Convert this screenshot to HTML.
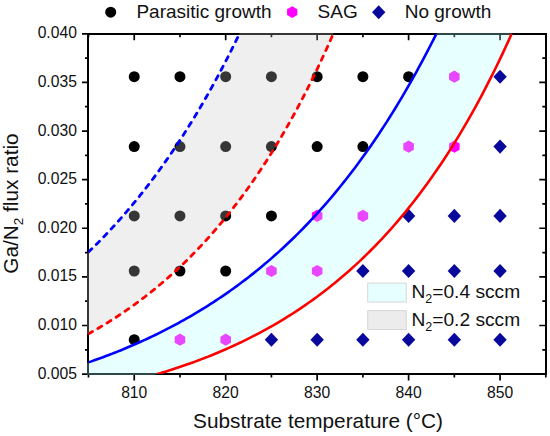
<!DOCTYPE html><html><head><meta charset="utf-8"><style>html,body{margin:0;padding:0;background:#fff;overflow:hidden}svg{display:block}</style></head><body><svg width="550" height="436" viewBox="0 0 550 436">
<defs><clipPath id="pc"><rect x="88.5" y="33.8" width="457.29999999999995" height="340.3"/></clipPath><clipPath id="fc"><rect x="87" y="33" width="460" height="342"/></clipPath></defs>
<rect width="550" height="436" fill="#fff"/>
<rect x="88" y="34" width="458" height="340" fill="none" stroke="#000" stroke-width="2"/>
<path d="M88.50,374.10v3.5M88.50,33.80v3.5M134.23,374.10v6.5M134.23,33.80v6.5M179.96,374.10v3.5M179.96,33.80v3.5M225.69,374.10v6.5M225.69,33.80v6.5M271.42,374.10v3.5M271.42,33.80v3.5M317.15,374.10v6.5M317.15,33.80v6.5M362.88,374.10v3.5M362.88,33.80v3.5M408.61,374.10v6.5M408.61,33.80v6.5M454.34,374.10v3.5M454.34,33.80v3.5M500.07,374.10v6.5M500.07,33.80v6.5M545.80,374.10v3.5M545.80,33.80v3.5M88.50,374.10h-6.5M545.80,374.10h-6.5M88.50,349.79h-3.5M545.80,349.79h-3.5M88.50,325.49h-6.5M545.80,325.49h-6.5M88.50,301.18h-3.5M545.80,301.18h-3.5M88.50,276.87h-6.5M545.80,276.87h-6.5M88.50,252.56h-3.5M545.80,252.56h-3.5M88.50,228.26h-6.5M545.80,228.26h-6.5M88.50,203.95h-3.5M545.80,203.95h-3.5M88.50,179.64h-6.5M545.80,179.64h-6.5M88.50,155.34h-3.5M545.80,155.34h-3.5M88.50,131.03h-6.5M545.80,131.03h-6.5M88.50,106.72h-3.5M545.80,106.72h-3.5M88.50,82.41h-6.5M545.80,82.41h-6.5M88.50,58.11h-3.5M545.80,58.11h-3.5M88.50,33.80h-6.5M545.80,33.80h-6.5" stroke="#000" stroke-width="1.7" fill="none"/>
<circle cx="134.23" cy="76.70" r="5.5" fill="#000"/><circle cx="179.96" cy="76.70" r="5.5" fill="#000"/><circle cx="225.69" cy="76.70" r="5.5" fill="#000"/><circle cx="271.42" cy="76.70" r="5.5" fill="#000"/><circle cx="317.15" cy="76.70" r="5.5" fill="#000"/><circle cx="362.88" cy="76.70" r="5.5" fill="#000"/><circle cx="408.61" cy="76.70" r="5.5" fill="#000"/><polygon points="454.34,70.60 459.62,73.65 459.62,79.75 454.34,82.80 449.06,79.75 449.06,73.65" fill="#ff00ff"/><polygon points="500.07,69.66 506.76,76.70 500.07,83.74 493.38,76.70" fill="#08089c"/><circle cx="134.23" cy="146.60" r="5.5" fill="#000"/><circle cx="179.96" cy="146.60" r="5.5" fill="#000"/><circle cx="225.69" cy="146.60" r="5.5" fill="#000"/><circle cx="271.42" cy="146.60" r="5.5" fill="#000"/><circle cx="317.15" cy="146.60" r="5.5" fill="#000"/><circle cx="362.88" cy="146.60" r="5.5" fill="#000"/><polygon points="408.61,140.50 413.89,143.55 413.89,149.65 408.61,152.70 403.33,149.65 403.33,143.55" fill="#ff00ff"/><polygon points="454.34,140.50 459.62,143.55 459.62,149.65 454.34,152.70 449.06,149.65 449.06,143.55" fill="#ff00ff"/><polygon points="500.07,139.56 506.76,146.60 500.07,153.64 493.38,146.60" fill="#08089c"/><circle cx="134.23" cy="215.90" r="5.5" fill="#000"/><circle cx="179.96" cy="215.90" r="5.5" fill="#000"/><circle cx="225.69" cy="215.90" r="5.5" fill="#000"/><circle cx="271.42" cy="215.90" r="5.5" fill="#000"/><polygon points="317.15,209.80 322.43,212.85 322.43,218.95 317.15,222.00 311.87,218.95 311.87,212.85" fill="#ff00ff"/><polygon points="362.88,209.80 368.16,212.85 368.16,218.95 362.88,222.00 357.60,218.95 357.60,212.85" fill="#ff00ff"/><polygon points="408.61,208.86 415.30,215.90 408.61,222.94 401.92,215.90" fill="#08089c"/><polygon points="454.34,208.86 461.03,215.90 454.34,222.94 447.65,215.90" fill="#08089c"/><polygon points="500.07,208.86 506.76,215.90 500.07,222.94 493.38,215.90" fill="#08089c"/><circle cx="134.23" cy="271.00" r="5.5" fill="#000"/><circle cx="179.96" cy="271.00" r="5.5" fill="#000"/><circle cx="225.69" cy="271.00" r="5.5" fill="#000"/><polygon points="271.42,264.90 276.70,267.95 276.70,274.05 271.42,277.10 266.14,274.05 266.14,267.95" fill="#ff00ff"/><polygon points="317.15,264.90 322.43,267.95 322.43,274.05 317.15,277.10 311.87,274.05 311.87,267.95" fill="#ff00ff"/><polygon points="362.88,263.96 369.57,271.00 362.88,278.04 356.19,271.00" fill="#08089c"/><polygon points="408.61,263.96 415.30,271.00 408.61,278.04 401.92,271.00" fill="#08089c"/><polygon points="454.34,263.96 461.03,271.00 454.34,278.04 447.65,271.00" fill="#08089c"/><polygon points="500.07,263.96 506.76,271.00 500.07,278.04 493.38,271.00" fill="#08089c"/><circle cx="134.23" cy="339.70" r="5.5" fill="#000"/><polygon points="179.96,333.60 185.24,336.65 185.24,342.75 179.96,345.80 174.68,342.75 174.68,336.65" fill="#ff00ff"/><polygon points="225.69,333.60 230.97,336.65 230.97,342.75 225.69,345.80 220.41,342.75 220.41,336.65" fill="#ff00ff"/><polygon points="271.42,332.66 278.11,339.70 271.42,346.74 264.73,339.70" fill="#08089c"/><polygon points="317.15,332.66 323.84,339.70 317.15,346.74 310.46,339.70" fill="#08089c"/><polygon points="362.88,332.66 369.57,339.70 362.88,346.74 356.19,339.70" fill="#08089c"/><polygon points="408.61,332.66 415.30,339.70 408.61,346.74 401.92,339.70" fill="#08089c"/><polygon points="454.34,332.66 461.03,339.70 454.34,346.74 447.65,339.70" fill="#08089c"/><polygon points="500.07,332.66 506.76,339.70 500.07,346.74 493.38,339.70" fill="#08089c"/>
<g clip-path="url(#fc)">
<path d="M87.00,253.47 L88.27,252.25 L89.55,251.03 L90.82,249.80 L92.09,248.56 L93.37,247.31 L94.64,246.05 L95.91,244.79 L97.19,243.52 L98.46,242.23 L99.73,240.94 L101.00,239.65 L102.28,238.34 L103.55,237.02 L104.82,235.70 L106.10,234.37 L107.37,233.03 L108.64,231.68 L109.92,230.32 L111.19,228.95 L112.46,227.58 L113.74,226.19 L115.01,224.80 L116.28,223.39 L117.56,221.98 L118.83,220.56 L120.10,219.13 L121.37,217.69 L122.65,216.24 L123.92,214.78 L125.19,213.31 L126.47,211.83 L127.74,210.34 L129.01,208.84 L130.29,207.34 L131.56,205.82 L132.83,204.29 L134.11,202.75 L135.38,201.21 L136.65,199.65 L137.93,198.08 L139.20,196.50 L140.47,194.92 L141.75,193.32 L143.02,191.71 L144.29,190.09 L145.56,188.46 L146.84,186.82 L148.11,185.17 L149.38,183.50 L150.66,181.83 L151.93,180.15 L153.20,178.45 L154.48,176.75 L155.75,175.03 L157.02,173.30 L158.30,171.56 L159.57,169.81 L160.84,168.05 L162.12,166.27 L163.39,164.49 L164.66,162.69 L165.93,160.88 L167.21,159.06 L168.48,157.23 L169.75,155.38 L171.03,153.53 L172.30,151.66 L173.57,149.78 L174.85,147.88 L176.12,145.98 L177.39,144.06 L178.67,142.13 L179.94,140.19 L181.21,138.23 L182.49,136.26 L183.76,134.28 L185.03,132.29 L186.31,130.28 L187.58,128.26 L188.85,126.22 L190.12,124.18 L191.40,122.12 L192.67,120.04 L193.94,117.96 L195.22,115.85 L196.49,113.74 L197.76,111.61 L199.04,109.47 L200.31,107.31 L201.58,105.14 L202.86,102.96 L204.13,100.76 L205.40,98.54 L206.68,96.32 L207.95,94.07 L209.22,91.82 L210.49,89.55 L211.77,87.26 L213.04,84.96 L214.31,82.64 L215.59,80.31 L216.86,77.96 L218.13,75.60 L219.41,73.22 L220.68,70.83 L221.95,68.42 L223.23,66.00 L224.50,63.56 L225.77,61.10 L227.05,58.63 L228.32,56.14 L229.59,53.64 L230.87,51.11 L232.14,48.58 L233.41,46.02 L234.68,43.45 L235.96,40.86 L237.23,38.26 L238.50,35.64 L239.78,33.00 L333.62,33.00 L331.56,37.70 L329.51,42.34 L327.45,46.93 L325.40,51.46 L323.34,55.94 L321.29,60.36 L319.23,64.73 L317.18,69.06 L315.12,73.33 L313.07,77.55 L311.01,81.72 L308.96,85.84 L306.90,89.91 L304.84,93.93 L302.79,97.91 L300.73,101.83 L298.68,105.72 L296.62,109.55 L294.57,113.34 L292.51,117.09 L290.46,120.79 L288.40,124.45 L286.35,128.06 L284.29,131.63 L282.24,135.16 L280.18,138.65 L278.13,142.09 L276.07,145.50 L274.02,148.86 L271.96,152.19 L269.91,155.48 L267.85,158.72 L265.80,161.93 L263.74,165.10 L261.69,168.23 L259.63,171.33 L257.58,174.39 L255.52,177.41 L253.47,180.40 L251.41,183.35 L249.36,186.27 L247.30,189.15 L245.25,192.00 L243.19,194.81 L241.14,197.59 L239.08,200.34 L237.03,203.05 L234.97,205.74 L232.91,208.39 L230.86,211.01 L228.80,213.60 L226.75,216.16 L224.69,218.68 L222.64,221.18 L220.58,223.65 L218.53,226.09 L216.47,228.50 L214.42,230.88 L212.36,233.24 L210.31,235.56 L208.25,237.86 L206.20,240.13 L204.14,242.38 L202.09,244.59 L200.03,246.78 L197.98,248.95 L195.92,251.09 L193.87,253.20 L191.81,255.29 L189.76,257.36 L187.70,259.40 L185.65,261.41 L183.59,263.41 L181.54,265.37 L179.48,267.32 L177.43,269.24 L175.37,271.14 L173.32,273.02 L171.26,274.87 L169.21,276.71 L167.15,278.52 L165.10,280.31 L163.04,282.07 L160.99,283.82 L158.93,285.55 L156.87,287.26 L154.82,288.94 L152.76,290.61 L150.71,292.25 L148.65,293.88 L146.60,295.49 L144.54,297.08 L142.49,298.65 L140.43,300.20 L138.38,301.73 L136.32,303.25 L134.27,304.74 L132.21,306.22 L130.16,307.68 L128.10,309.13 L126.05,310.55 L123.99,311.96 L121.94,313.36 L119.88,314.73 L117.83,316.10 L115.77,317.44 L113.72,318.77 L111.66,320.08 L109.61,321.38 L107.55,322.66 L105.50,323.93 L103.44,325.18 L101.39,326.42 L99.33,327.64 L97.28,328.85 L95.22,330.04 L93.17,331.22 L91.11,332.38 L89.06,333.54 L87.00,334.67 Z" fill="#c5c5c5" fill-opacity="0.275"/>
<path d="M87.00,362.89 L89.91,361.88 L92.83,360.86 L95.74,359.82 L98.66,358.77 L101.57,357.70 L104.49,356.62 L107.40,355.52 L110.32,354.40 L113.23,353.27 L116.15,352.12 L119.06,350.95 L121.97,349.77 L124.89,348.57 L127.80,347.35 L130.72,346.11 L133.63,344.85 L136.55,343.58 L139.46,342.28 L142.38,340.97 L145.29,339.64 L148.21,338.29 L151.12,336.91 L154.03,335.52 L156.95,334.11 L159.86,332.67 L162.78,331.22 L165.69,329.74 L168.61,328.24 L171.52,326.72 L174.44,325.17 L177.35,323.61 L180.27,322.02 L183.18,320.40 L186.09,318.76 L189.01,317.10 L191.92,315.42 L194.84,313.70 L197.75,311.97 L200.67,310.20 L203.58,308.41 L206.50,306.60 L209.41,304.75 L212.33,302.88 L215.24,300.99 L218.15,299.06 L221.07,297.10 L223.98,295.12 L226.90,293.11 L229.81,291.06 L232.73,288.99 L235.64,286.88 L238.56,284.75 L241.47,282.58 L244.39,280.38 L247.30,278.15 L250.21,275.88 L253.13,273.58 L256.04,271.25 L258.96,268.88 L261.87,266.48 L264.79,264.04 L267.70,261.57 L270.62,259.05 L273.53,256.51 L276.45,253.92 L279.36,251.29 L282.27,248.63 L285.19,245.93 L288.10,243.18 L291.02,240.40 L293.93,237.57 L296.85,234.70 L299.76,231.79 L302.68,228.84 L305.59,225.84 L308.51,222.80 L311.42,219.71 L314.33,216.58 L317.25,213.40 L320.16,210.17 L323.08,206.89 L325.99,203.57 L328.91,200.20 L331.82,196.77 L334.74,193.30 L337.65,189.77 L340.57,186.20 L343.48,182.57 L346.39,178.88 L349.31,175.14 L352.22,171.35 L355.14,167.49 L358.05,163.59 L360.97,159.62 L363.88,155.59 L366.80,151.51 L369.71,147.36 L372.63,143.15 L375.54,138.88 L378.45,134.55 L381.37,130.15 L384.28,125.69 L387.20,121.16 L390.11,116.56 L393.03,111.90 L395.94,107.16 L398.86,102.36 L401.77,97.48 L404.69,92.53 L407.60,87.51 L410.51,82.41 L413.43,77.24 L416.34,71.99 L419.26,66.67 L422.17,61.26 L425.09,55.77 L428.00,50.20 L430.92,44.55 L433.83,38.82 L436.75,33.00 L512.00,33.00 L509.02,39.62 L506.04,46.13 L503.06,52.54 L500.08,58.83 L497.10,65.02 L494.11,71.10 L491.13,77.08 L488.15,82.96 L485.17,88.74 L482.19,94.43 L479.21,100.02 L476.23,105.51 L473.24,110.91 L470.26,116.22 L467.28,121.44 L464.30,126.58 L461.32,131.62 L458.34,136.58 L455.36,141.46 L452.38,146.26 L449.39,150.97 L446.41,155.61 L443.43,160.17 L440.45,164.65 L437.47,169.05 L434.49,173.39 L431.51,177.64 L428.52,181.83 L425.54,185.95 L422.56,189.99 L419.58,193.97 L416.60,197.88 L413.62,201.73 L410.64,205.51 L407.65,209.23 L404.67,212.88 L401.69,216.48 L398.71,220.01 L395.73,223.48 L392.75,226.90 L389.77,230.25 L386.79,233.55 L383.80,236.80 L380.82,239.99 L377.84,243.12 L374.86,246.21 L371.88,249.24 L368.90,252.22 L365.92,255.15 L362.93,258.03 L359.95,260.87 L356.97,263.65 L353.99,266.39 L351.01,269.08 L348.03,271.73 L345.05,274.33 L342.06,276.89 L339.08,279.40 L336.10,281.87 L333.12,284.31 L330.14,286.70 L327.16,289.05 L324.18,291.36 L321.20,293.63 L318.21,295.86 L315.23,298.06 L312.25,300.21 L309.27,302.34 L306.29,304.42 L303.31,306.47 L300.33,308.49 L297.34,310.47 L294.36,312.42 L291.38,314.34 L288.40,316.22 L285.42,318.08 L282.44,319.90 L279.46,321.69 L276.47,323.45 L273.49,325.18 L270.51,326.88 L267.53,328.55 L264.55,330.20 L261.57,331.82 L258.59,333.41 L255.60,334.97 L252.62,336.51 L249.64,338.02 L246.66,339.50 L243.68,340.96 L240.70,342.40 L237.72,343.81 L234.74,345.20 L231.75,346.56 L228.77,347.90 L225.79,349.22 L222.81,350.52 L219.83,351.80 L216.85,353.05 L213.87,354.28 L210.88,355.49 L207.90,356.68 L204.92,357.85 L201.94,359.01 L198.96,360.14 L195.98,361.25 L193.00,362.35 L190.01,363.42 L187.03,364.48 L184.05,365.52 L181.07,366.54 L178.09,367.55 L175.11,368.53 L172.13,369.51 L169.15,370.46 L166.16,371.40 L163.18,372.32 L160.20,373.23 L157.22,374.12 L154.24,375.00 L87,375 Z" fill="#adffff" fill-opacity="0.28"/>
</g><g clip-path="url(#pc)">
<path d="M88.50,252.04 L89.76,250.83 L91.01,249.61 L92.27,248.38 L93.53,247.15 L94.79,245.91 L96.04,244.66 L97.30,243.40 L98.56,242.13 L99.82,240.86 L101.07,239.57 L102.33,238.28 L103.59,236.98 L104.85,235.68 L106.10,234.36 L107.36,233.04 L108.62,231.70 L109.88,230.36 L111.13,229.01 L112.39,227.65 L113.65,226.29 L114.91,224.91 L116.16,223.52 L117.42,222.13 L118.68,220.73 L119.94,219.31 L121.19,217.89 L122.45,216.46 L123.71,215.02 L124.97,213.57 L126.22,212.11 L127.48,210.65 L128.74,209.17 L130.00,207.68 L131.25,206.19 L132.51,204.68 L133.77,203.16 L135.03,201.64 L136.28,200.10 L137.54,198.56 L138.80,197.00 L140.05,195.44 L141.31,193.86 L142.57,192.28 L143.83,190.68 L145.08,189.07 L146.34,187.46 L147.60,185.83 L148.86,184.19 L150.11,182.55 L151.37,180.89 L152.63,179.22 L153.89,177.54 L155.14,175.85 L156.40,174.15 L157.66,172.43 L158.92,170.71 L160.17,168.97 L161.43,167.23 L162.69,165.47 L163.95,163.70 L165.20,161.92 L166.46,160.13 L167.72,158.33 L168.98,156.51 L170.23,154.69 L171.49,152.85 L172.75,151.00 L174.01,149.14 L175.26,147.26 L176.52,145.38 L177.78,143.48 L179.04,141.57 L180.29,139.65 L181.55,137.71 L182.81,135.76 L184.06,133.80 L185.32,131.83 L186.58,129.84 L187.84,127.85 L189.09,125.83 L190.35,123.81 L191.61,121.77 L192.87,119.72 L194.12,117.66 L195.38,115.58 L196.64,113.49 L197.90,111.39 L199.15,109.27 L200.41,107.14 L201.67,104.99 L202.93,102.84 L204.18,100.66 L205.44,98.48 L206.70,96.28 L207.96,94.06 L209.21,91.83 L210.47,89.59 L211.73,87.33 L212.99,85.06 L214.24,82.77 L215.50,80.47 L216.76,78.15 L218.02,75.82 L219.27,73.47 L220.53,71.11 L221.79,68.73 L223.05,66.34 L224.30,63.93 L225.56,61.51 L226.82,59.07 L228.08,56.62 L229.33,54.15 L230.59,51.66 L231.85,49.16 L233.10,46.64 L234.36,44.10 L235.62,41.55 L236.88,38.99 L238.13,36.40 L239.39,33.80" fill="none" stroke="#0000ff" stroke-width="2.8" stroke-dasharray="4.6 6.15" stroke-linecap="round"/>
<path d="M88.50,333.84 L90.54,332.71 L92.58,331.55 L94.62,330.39 L96.66,329.21 L98.70,328.01 L100.74,326.80 L102.78,325.58 L104.82,324.34 L106.86,323.09 L108.90,321.82 L110.94,320.54 L112.98,319.24 L115.02,317.93 L117.06,316.60 L119.10,315.26 L121.14,313.90 L123.18,312.52 L125.22,311.13 L127.25,309.72 L129.29,308.29 L131.33,306.85 L133.37,305.39 L135.41,303.91 L137.45,302.41 L139.49,300.90 L141.53,299.37 L143.57,297.82 L145.61,296.25 L147.65,294.67 L149.69,293.06 L151.73,291.44 L153.77,289.79 L155.81,288.13 L157.85,286.45 L159.89,284.74 L161.93,283.02 L163.97,281.28 L166.01,279.51 L168.05,277.73 L170.09,275.92 L172.13,274.09 L174.17,272.24 L176.21,270.37 L178.25,268.48 L180.29,266.56 L182.33,264.62 L184.37,262.66 L186.41,260.67 L188.45,258.66 L190.49,256.63 L192.53,254.57 L194.57,252.49 L196.61,250.38 L198.65,248.25 L200.69,246.09 L202.73,243.91 L204.76,241.70 L206.80,239.46 L208.84,237.20 L210.88,234.91 L212.92,232.60 L214.96,230.25 L217.00,227.88 L219.04,225.48 L221.08,223.05 L223.12,220.60 L225.16,218.11 L227.20,215.60 L229.24,213.05 L231.28,210.47 L233.32,207.87 L235.36,205.23 L237.40,202.56 L239.44,199.86 L241.48,197.13 L243.52,194.36 L245.56,191.56 L247.60,188.73 L249.64,185.87 L251.68,182.97 L253.72,180.03 L255.76,177.06 L257.80,174.06 L259.84,171.02 L261.88,167.94 L263.92,164.83 L265.96,161.68 L268.00,158.50 L270.04,155.27 L272.08,152.01 L274.12,148.70 L276.16,145.36 L278.20,141.98 L280.24,138.56 L282.27,135.10 L284.31,131.60 L286.35,128.05 L288.39,124.46 L290.43,120.83 L292.47,117.16 L294.51,113.44 L296.55,109.68 L298.59,105.88 L300.63,102.03 L302.67,98.13 L304.71,94.19 L306.75,90.20 L308.79,86.16 L310.83,82.08 L312.87,77.94 L314.91,73.76 L316.95,69.53 L318.99,65.24 L321.03,60.91 L323.07,56.52 L325.11,52.09 L327.15,47.59 L329.19,43.05 L331.23,38.45 L333.27,33.80" fill="none" stroke="#ff0000" stroke-width="2.8" stroke-dasharray="4.6 6.15" stroke-linecap="round"/>
<path d="M88.50,362.37 L91.40,361.37 L94.30,360.34 L97.20,359.30 L100.09,358.25 L102.99,357.18 L105.89,356.09 L108.79,354.99 L111.69,353.87 L114.59,352.74 L117.49,351.59 L120.39,350.42 L123.28,349.23 L126.18,348.03 L129.08,346.81 L131.98,345.57 L134.88,344.31 L137.78,343.03 L140.68,341.74 L143.58,340.43 L146.47,339.09 L149.37,337.74 L152.27,336.37 L155.17,334.97 L158.07,333.56 L160.97,332.12 L163.87,330.67 L166.77,329.19 L169.66,327.69 L172.56,326.17 L175.46,324.63 L178.36,323.06 L181.26,321.47 L184.16,319.86 L187.06,318.22 L189.96,316.56 L192.85,314.87 L195.75,313.16 L198.65,311.42 L201.55,309.66 L204.45,307.88 L207.35,306.06 L210.25,304.22 L213.15,302.35 L216.04,300.46 L218.94,298.53 L221.84,296.58 L224.74,294.60 L227.64,292.59 L230.54,290.55 L233.44,288.48 L236.33,286.38 L239.23,284.25 L242.13,282.08 L245.03,279.89 L247.93,277.66 L250.83,275.40 L253.73,273.11 L256.63,270.78 L259.52,268.42 L262.42,266.02 L265.32,263.59 L268.22,261.12 L271.12,258.62 L274.02,256.08 L276.92,253.50 L279.82,250.88 L282.71,248.22 L285.61,245.53 L288.51,242.79 L291.41,240.02 L294.31,237.20 L297.21,234.34 L300.11,231.44 L303.01,228.50 L305.90,225.51 L308.80,222.48 L311.70,219.41 L314.60,216.29 L317.50,213.12 L320.40,209.91 L323.30,206.65 L326.20,203.34 L329.09,199.98 L331.99,196.57 L334.89,193.11 L337.79,189.60 L340.69,186.04 L343.59,182.43 L346.49,178.76 L349.39,175.04 L352.28,171.27 L355.18,167.43 L358.08,163.55 L360.98,159.60 L363.88,155.60 L366.78,151.53 L369.68,147.41 L372.57,143.23 L375.47,138.98 L378.37,134.67 L381.27,130.30 L384.17,125.86 L387.07,121.36 L389.97,116.79 L392.87,112.16 L395.76,107.45 L398.66,102.68 L401.56,97.83 L404.46,92.92 L407.36,87.93 L410.26,82.86 L413.16,77.73 L416.06,72.51 L418.95,67.22 L421.85,61.85 L424.75,56.41 L427.65,50.88 L430.55,45.27 L433.45,39.58 L436.35,33.80" fill="none" stroke="#0000ff" stroke-width="2.6"/>
<path d="M157.30,374.10 L160.25,373.22 L163.20,372.32 L166.15,371.40 L169.11,370.47 L172.06,369.53 L175.01,368.56 L177.97,367.59 L180.92,366.59 L183.87,365.58 L186.83,364.55 L189.78,363.51 L192.73,362.44 L195.68,361.36 L198.64,360.26 L201.59,359.14 L204.54,358.00 L207.50,356.85 L210.45,355.67 L213.40,354.47 L216.35,353.25 L219.31,352.02 L222.26,350.76 L225.21,349.48 L228.17,348.18 L231.12,346.85 L234.07,345.50 L237.02,344.14 L239.98,342.74 L242.93,341.33 L245.88,339.89 L248.84,338.42 L251.79,336.93 L254.74,335.42 L257.69,333.88 L260.65,332.31 L263.60,330.72 L266.55,329.10 L269.51,327.45 L272.46,325.77 L275.41,324.07 L278.37,322.34 L281.32,320.57 L284.27,318.78 L287.22,316.96 L290.18,315.11 L293.13,313.22 L296.08,311.30 L299.04,309.35 L301.99,307.37 L304.94,305.35 L307.89,303.30 L310.85,301.22 L313.80,299.10 L316.75,296.94 L319.71,294.75 L322.66,292.52 L325.61,290.25 L328.56,287.94 L331.52,285.60 L334.47,283.21 L337.42,280.78 L340.38,278.32 L343.33,275.81 L346.28,273.26 L349.24,270.66 L352.19,268.02 L355.14,265.34 L358.09,262.61 L361.05,259.83 L364.00,257.01 L366.95,254.14 L369.91,251.22 L372.86,248.25 L375.81,245.23 L378.76,242.16 L381.72,239.04 L384.67,235.86 L387.62,232.63 L390.58,229.35 L393.53,226.01 L396.48,222.61 L399.43,219.16 L402.39,215.64 L405.34,212.07 L408.29,208.44 L411.25,204.74 L414.20,200.98 L417.15,197.16 L420.10,193.28 L423.06,189.32 L426.01,185.31 L428.96,181.22 L431.92,177.06 L434.87,172.83 L437.82,168.53 L440.78,164.16 L443.73,159.72 L446.68,155.20 L449.63,150.60 L452.59,145.92 L455.54,141.17 L458.49,136.33 L461.45,131.41 L464.40,126.41 L467.35,121.32 L470.30,116.15 L473.26,110.89 L476.21,105.54 L479.16,100.10 L482.12,94.57 L485.07,88.94 L488.02,83.22 L490.97,77.40 L493.93,71.48 L496.88,65.46 L499.83,59.34 L502.79,53.11 L505.74,46.78 L508.69,40.35 L511.65,33.80" fill="none" stroke="#ff0000" stroke-width="2.6"/>
</g>
<g font-family="Liberation Sans, sans-serif" font-size="15.7" fill="#111111"><text x="134.23" y="398" text-anchor="middle">810</text><text x="225.69" y="398" text-anchor="middle">820</text><text x="317.15" y="398" text-anchor="middle">830</text><text x="408.61" y="398" text-anchor="middle">840</text><text x="500.07" y="398" text-anchor="middle">850</text><text x="76.9" y="378.60" text-anchor="end">0.005</text><text x="76.9" y="329.99" text-anchor="end">0.010</text><text x="76.9" y="281.37" text-anchor="end">0.015</text><text x="76.9" y="232.76" text-anchor="end">0.020</text><text x="76.9" y="184.14" text-anchor="end">0.025</text><text x="76.9" y="135.53" text-anchor="end">0.030</text><text x="76.9" y="86.91" text-anchor="end">0.035</text><text x="76.9" y="38.30" text-anchor="end">0.040</text></g>
<text font-family="Liberation Sans, sans-serif" font-size="20.8" fill="#111111" x="193.1" y="427.9">Substrate temperature (°C)</text>
<text font-family="Liberation Sans, sans-serif" font-size="20.8" fill="#111111" transform="translate(18.3,273.8) rotate(-90)">Ga/N<tspan font-size="13.5" dy="5">2</tspan><tspan dy="-5"> flux ratio</tspan></text>
<circle cx="110.7" cy="12.2" r="5.5" fill="#000"/>
<polygon points="292.20,6.20 297.31,9.15 297.31,15.05 292.20,18.00 287.09,15.05 287.09,9.15" fill="#ff00ff"/>
<polygon points="378.70,5.16 385.39,12.20 378.70,19.24 372.01,12.20" fill="#08089c"/>
<g font-family="Liberation Sans, sans-serif" font-size="19" fill="#111111"><text x="136.4" y="17.9">Parasitic growth</text><text x="317.6" y="17.9">SAG</text><text x="404.7" y="17.9">No growth</text></g>
<rect x="367.7" y="283.1" width="38.6" height="18.9" fill="#e6ffff" stroke="#d8d8d8" stroke-width="1"/>
<rect x="367.7" y="310.6" width="38.6" height="18.9" fill="#ececec" stroke="#d8d8d8" stroke-width="1"/>
<g font-family="Liberation Sans, sans-serif" font-size="19.2" fill="#111111"><text x="411.4" y="298.1">N<tspan font-size="12.5" dy="5">2</tspan><tspan dy="-5">=0.4 sccm</tspan></text><text x="411.4" y="325.9">N<tspan font-size="12.5" dy="5">2</tspan><tspan dy="-5">=0.2 sccm</tspan></text></g>
</svg></body></html>
